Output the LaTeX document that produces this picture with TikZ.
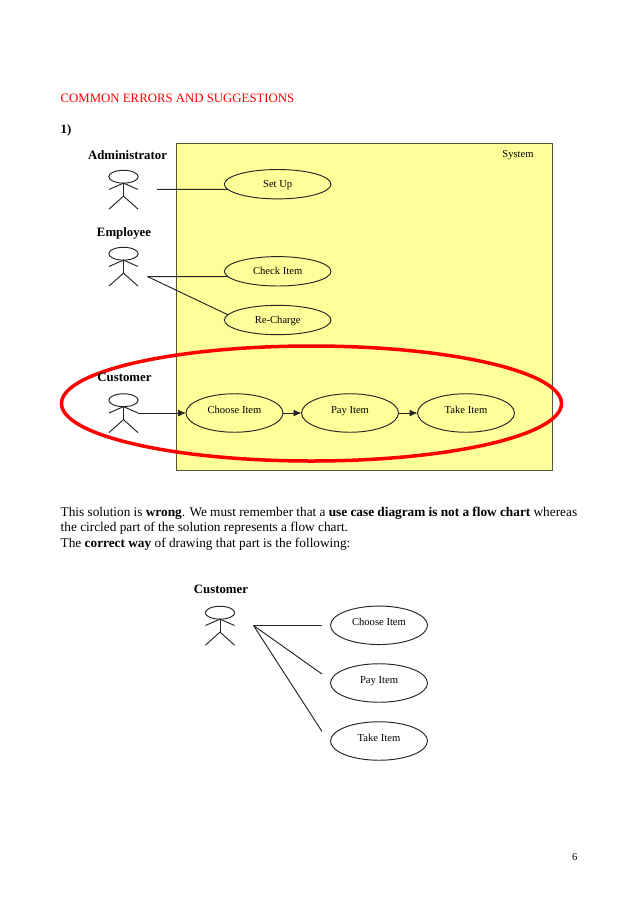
\documentclass[tikz,border=0pt]{standalone}
\usepackage{fontspec}
\setmainfont{Liberation Serif}
\usetikzlibrary{shapes.geometric,arrows.meta}
\definecolor{sysyellow}{HTML}{FFFF99}
\definecolor{sysedge}{HTML}{555533}
\tikzset{
  ln/.style={draw=black!85,line width=0.95pt},
  usecase/.style={ellipse,ln,inner sep=0pt,outer sep=0pt,minimum width=97pt,minimum height=38.5pt},
  smallcase/.style={ellipse,ln,inner sep=0pt,outer sep=0pt,minimum width=106.6pt,minimum height=29.4pt},
  casetext/.style={font=\fontsize{10.6}{12}\selectfont,yshift=2pt,text height=7pt,text depth=2.3pt},
  flattext/.style={font=\fontsize{10.6}{12}\selectfont,yshift=-1.2pt,text height=7pt,text depth=2.3pt},
  bodytext/.style={font=\fontsize{13.3}{15.4}\selectfont,anchor=base west,inner sep=0pt},
  actorname/.style={font=\fontsize{12.8}{15.4}\selectfont\bfseries,anchor=base,inner sep=0pt},
  flow/.style={ln,-{Latex[length=8pt,width=7pt]}},
  actor/.pic={
    \draw[ln] (0,0) ellipse [x radius=14.7,y radius=6.4];
    \draw[ln] (-14.5,12.8) -- (0,6.4) -- (14.5,12.8);
    \draw[ln] (0,6.4) -- (0,19.4);
    \draw[ln] (-14.5,32.4) -- (0,19.4) -- (14.5,32.4);
    \coordinate (-hand) at (14.5,12.8);
  }
}
\begin{document}
\begin{tikzpicture}[x=1pt,y=-1pt]
\useasboundingbox (0,0) rectangle (638,902);
\fill[white] (0,0) rectangle (638,902);
\node[bodytext,text=red,font=\fontsize{12.8}{15.4}\selectfont] (title) at (60.5,102.5) {COMMON ERRORS AND SUGGESTIONS};
\node[bodytext,font=\fontsize{12.8}{15.4}\selectfont\bfseries] (num) at (60.5,133) {1)};
\draw[draw=sysedge,fill=sysyellow,line width=0.9pt] (176.7,143.3) rectangle (552.5,470.8);
\node[font=\fontsize{10.6}{12}\selectfont,anchor=base,inner sep=0pt] (system) at (518,157.5) {System};

\node[actorname] (adminname) at (127.5,159.5) {Administrator};
\node[actorname] (empname) at (124,236.5) {Employee};
\pic (admin) at (123.5,176.7) {actor};
\pic (emp) at (123.5,253.7) {actor};
\pic (cust) at (123.5,400.2) {actor};

\node[smallcase,label={[flattext]center:Set Up}] (setup) at (277.7,184.2) {};
\node[smallcase,label={[flattext]center:Check Item}] (check) at (277.7,271.3) {};
\node[smallcase,label={[flattext]center:Re-Charge}] (recharge) at (277.7,320) {};
\node[usecase,label={[casetext]center:Choose Item}] (choose) at (234.5,413) {};
\node[usecase,label={[casetext]center:Pay Item}] (pay) at (350,413) {};
\node[usecase,label={[casetext]center:Take Item}] (take) at (466,413) {};

\coordinate (adminport) at (157,189.45);
\coordinate (empport) at (147.5,276.55);
\draw[ln] (adminport) -- (setup.186);
\draw[ln] (empport) -- (check.186);
\draw[ln] (empport) -- (recharge.174);
\draw[flow] (cust-hand) -- (choose.west);
\draw[flow] (choose.east) -- (pay.west);
\draw[flow] (pay.east) -- (take.west);

\node[draw=red,line width=3.5pt,ellipse,inner sep=0pt,minimum width=500pt,minimum height=115pt] (circled) at (311.5,403.5) {};
\node[actorname] (custname) at (124.5,381) {Customer};

\node[bodytext,text width=516.5pt,align=justify,anchor=north west] (para) at (60.5,507) {This solution is \textbf{wrong}. We must remember that a \textbf{use case diagram is not a flow chart} whereas the circled part of the solution represents a flow chart.\\ The \textbf{correct way} of drawing that part is the following:};

\node[actorname] (custname2) at (221,593.5) {Customer};
\pic (cust2) at (220,612.7) {actor};
\node[usecase,label={[casetext]center:Choose Item}] (choose2) at (379,625.3) {};
\node[usecase,label={[casetext]center:Pay Item}] (pay2) at (379,683) {};
\node[usecase,label={[casetext]center:Take Item}] (take2) at (379,741) {};
\coordinate (apex) at (253.5,625.5);
\coordinate (end1) at (322,625.5);
\coordinate (end2) at (322,674);
\coordinate (end3) at (322,731.5);
\draw[ln] (apex) -- (end1);
\draw[ln] (apex) -- (end2);
\draw[ln] (apex) -- (end3);

\node[font=\fontsize{10.6}{12}\selectfont,anchor=base east,inner sep=0pt] (page) at (577.5,860) {6};
\end{tikzpicture}
\end{document}
